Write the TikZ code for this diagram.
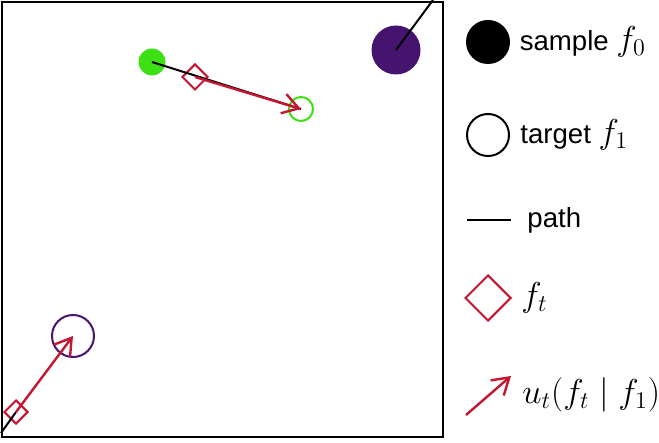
\documentclass[tikz,border=0pt]{standalone}
\usepackage{fontspec}
\setmainfont{Liberation Sans}
\usetikzlibrary{positioning,shapes.geometric,arrows.meta}
\definecolor{startgreen}{RGB}{60,224,20}
\definecolor{startpurple}{RGB}{68,20,110}
\definecolor{flowred}{RGB}{196,22,48}
\newcommand{\bigmath}[1]{{\fontsize{17}{20}\selectfont$#1$}}
\begin{document}
\begin{tikzpicture}[x=0.5pt, y=-0.5pt,
    sample/.style = {circle, inner sep=0pt, minimum size=#1},
    target/.style = {circle, draw, line width=1pt, inner sep=0pt, minimum size=#1},
    state/.style = {diamond, draw=flowred, line width=1pt, inner sep=0pt, minimum size=#1},
    flow/.style = {draw=flowred, line width=1.2pt, -{Straight Barb[length=8pt, width=10pt]}},
    track/.style = {draw, line width=1pt},
    label/.style = {inner sep=0pt, font=\fontsize{13.8}{16}\selectfont}]
\useasboundingbox (0,0) rectangle (659,443);
\draw[line width=1pt] (2,2) rectangle (443,437);
% first pair
\node[sample=13.5pt, fill=startgreen] (s1) at (152,62) {};
\node[target=12pt, draw=startgreen] (t1) at (301,109) {};
\node[state=13pt] (d1) at (195,77) {};
\draw[track] (s1.center) -- (t1.center);
\draw[flow] (d1.center) -- (t1.center);
% second pair
\node[sample=24.5pt, fill=startpurple] (s2) at (396,50) {};
\coordinate (e2) at (433,0);
\draw[track] (s2.center) -- (e2);
% third pair
\node[target=21pt, draw=startpurple] (t3) at (73,336) {};
\node[state=12pt] (d3) at (16,412) {};
\coordinate (e3) at (1,433);
\draw[track] (e3) -- (d3.center);
\draw[flow] (d3.center) -- (t3.center);
% legend
\node[sample=22pt, fill=black] (l1) at (488,42) {};
\node[label, right=4.5pt of l1] (l1t) {sample \bigmath{f_0}};
\node[target=21pt] (l2) at (488,135) {};
\node[label, right=5pt of l2] (l2t) {target \bigmath{f_1}};
\coordinate (l3a) at (467,220);
\coordinate (l3b) at (511,220);
\draw[line width=1pt] (l3a) -- (l3b);
\node[label, right=8pt of l3b] (l3t) {path};
\node[state=23pt] (l4) at (488,298) {};
\node[label, right=4.5pt of l4] (l4t) {\bigmath{f_t}};
\coordinate (l5a) at (466,415);
\coordinate (l5b) at (511,376);
\draw[flow] (l5a) -- (l5b);
\node[label, anchor=west] (l5t) at (522,395) {\bigmath{u_t(f_t \mid f_1)}};
\end{tikzpicture}
\end{document}
